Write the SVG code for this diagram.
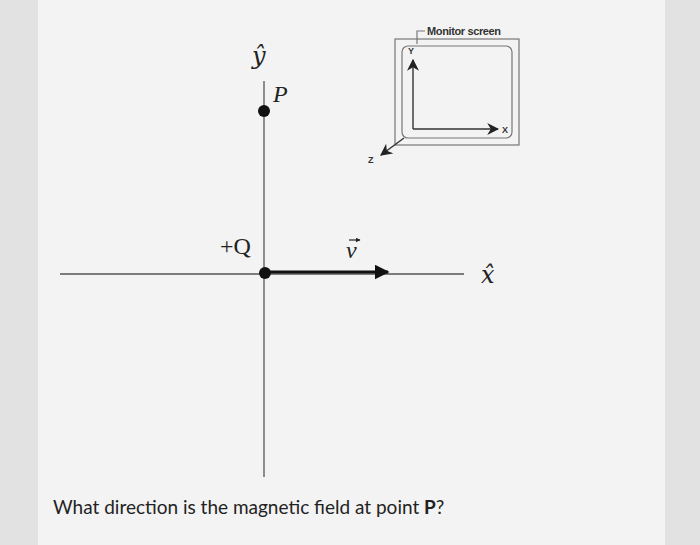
<svg xmlns="http://www.w3.org/2000/svg" width="700" height="545" viewBox="0 0 700 545">
<style>
.ax{stroke:#555;stroke-width:1.3;fill:none}
.mon{stroke:#777;stroke-width:1.2;fill:none}
.serif{font-family:"Liberation Serif",serif;fill:#222}
.dv{font-family:"DejaVu Serif",serif;fill:#222}
.sm{font-family:"Liberation Sans",sans-serif;fill:#333;font-weight:bold}
</style>
<defs>
<marker id="ah" viewBox="0 0 10 10" refX="9" refY="5" markerWidth="5" markerHeight="5" orient="auto"><path d="M0,0L10,5L0,10z" fill="#111"/></marker>
<marker id="sb" viewBox="0 0 10 10" refX="9" refY="5" markerWidth="12" markerHeight="12" markerUnits="userSpaceOnUse" orient="auto"><path d="M0,0L10,5L0,10L3,5z" fill="#222"/></marker>
<marker id="va" viewBox="0 0 10 10" refX="9" refY="5" markerWidth="5" markerHeight="5" markerUnits="userSpaceOnUse" orient="auto"><path d="M0,0L10,5L0,10z" fill="#222"/></marker>
</defs>
<rect width="700" height="545" fill="#e2e2e2"/>
<rect x="38" y="0" width="627" height="545" fill="#f3f3f3"/>
<g id="axes">
<line class="ax" x1="264" y1="81" x2="264" y2="477"/>
<line class="ax" x1="60" y1="274" x2="464" y2="274"/>
<text class="dv" x="252" y="64" font-size="24" font-style="italic">ŷ</text>
<text class="dv" x="481" y="283" font-size="24" font-style="italic">x̂</text>
</g>
<g id="P"><circle cx="264" cy="111" r="6" fill="#111"/><text class="serif" x="273" y="102" font-size="24" font-style="italic">P</text></g>
<g id="Q"><circle cx="265" cy="273" r="6" fill="#111"/><text class="serif" x="220" y="254" font-size="24">+Q</text></g>
<g id="connectors">
<line x1="265" y1="272" x2="388" y2="272" stroke="#111" stroke-width="3" marker-end="url(#ah)"/>
<text class="serif" x="346" y="258" font-size="24" font-style="italic">v</text>
<line x1="349" y1="240" x2="360" y2="240" stroke="#222" stroke-width="1.2" marker-end="url(#va)"/>
</g>
<g id="monitor">
<rect class="mon" x="395" y="39" width="124" height="106"/>
<rect class="mon" x="402" y="46" width="110" height="92" rx="6"/>
<path class="mon" d="M417,44V31H425"/>
<text class="sm" x="427" y="35" font-size="11" textLength="74">Monitor screen</text>
<line x1="413" y1="129" x2="413" y2="60" stroke="#333" stroke-width="1.4" marker-end="url(#sb)"/>
<line x1="413" y1="129" x2="498" y2="129" stroke="#333" stroke-width="1.4" marker-end="url(#sb)"/>
<line x1="404" y1="138" x2="381" y2="155" stroke="#333" stroke-width="1.4" marker-end="url(#sb)"/>
<text class="sm" x="408" y="54" font-size="9">Y</text>
<text class="sm" x="502" y="133" font-size="9">X</text>
<text class="sm" x="368" y="163" font-size="9">Z</text>
</g>
<text x="53" y="514" font-family="Lato,sans-serif" font-size="19" fill="#222">What direction is the magnetic field at point <tspan font-weight="bold">P</tspan>?</text>
</svg>
